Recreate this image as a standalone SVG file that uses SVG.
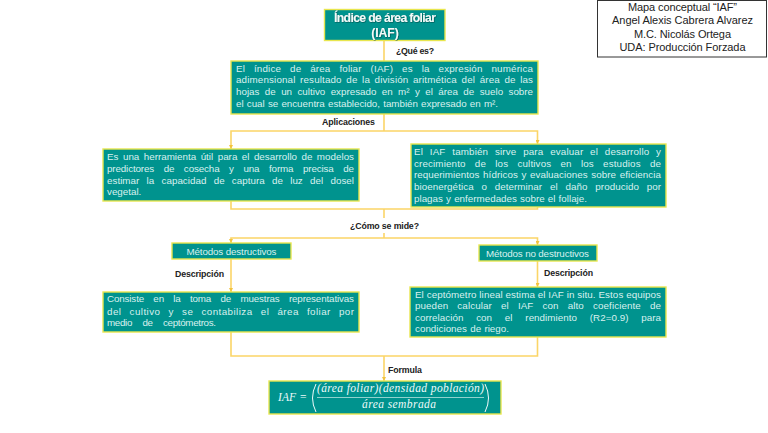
<svg xmlns="http://www.w3.org/2000/svg" width="768" height="433" viewBox="0 0 768 433">
<style>
text{font-family:"Liberation Sans",Arial,sans-serif}
.box{fill:#00938e;stroke:#e8e64e;stroke-width:1.4}
.b{font-size:9.800px;fill:#d9f1ee}
.c{font-size:9.800px;fill:#d9f1ee;text-anchor:middle}
.l{font-size:8.800px;font-weight:bold;fill:#222}
.t{font-size:12.200px;font-weight:bold;fill:#f2fbfa;text-anchor:middle;filter:url(#sh)}
.i{font-size:11px;fill:#222;text-anchor:middle}
.m{font-family:"Liberation Serif",serif;font-style:italic;font-size:11.500px;fill:#eefafa}
.line{fill:none;stroke:#fbd567;stroke-width:1.6}
.arr{fill:none;stroke:#fbd567;stroke-width:1.6;marker-end:url(#a)}
</style>
<defs>
<marker id="a" markerUnits="userSpaceOnUse" markerWidth="5" markerHeight="4" refX="4" refY="2" orient="auto"><path d="M0 0L4 2L0 4z" fill="#f3c33e"/></marker>
<filter id="sh" x="-5%" y="-20%" width="110%" height="140%"><feDropShadow dx="0.6" dy="0.6" stdDeviation="0.4" flood-color="#003d3a" flood-opacity="0.8"/></filter>
</defs>
<rect width="768" height="433" fill="#fff"/>
<g id="connectors">
<path class="line" d="M384 41V61"/>
<path class="line" d="M384 114V131"/>
<path class="arr" d="M384 131H231V149"/>
<path class="arr" d="M384 131H537.500V144"/>
<path class="line" d="M231 201V209H537.500V207"/>
<path class="line" d="M384 209V218"/>
<path class="line" d="M384 233V238"/>
<path class="arr" d="M384 238H231V243"/>
<path class="arr" d="M384 238H537.500V245"/>
<path class="arr" d="M231 259V292"/>
<path class="arr" d="M537.500 261V287"/>
<path class="line" d="M231 332V356H537.500V337"/>
<path class="arr" d="M384 356V381"/>
</g>
<g id="node-title">
<rect class="box" x="324.500" y="9.500" width="120.500" height="31"/>
<text class="t" x="385" y="22" textLength="102">Índice de área foliar</text>
<text class="t" x="385" y="36.500">(IAF)</text>
</g>
<g id="label-que-es"><text class="l" x="396" y="54" textLength="38">¿Qué es?</text></g>
<g id="node-definicion">
<rect class="box" x="231" y="61" width="307" height="53"/>
<text class="b" x="236" y="71.500" textLength="297" style="word-spacing:6px">El índice de área foliar (IAF) es la expresión numérica</text>
<text class="b" x="236" y="83" textLength="297" style="word-spacing:1.700px">adimensional resultado de la división aritmética del área de las</text>
<text class="b" x="236" y="95" textLength="297" style="word-spacing:2.700px">hojas de un cultivo expresado en m² y el área de suelo sobre</text>
<text class="b" x="236" y="107" textLength="262" style="word-spacing:0.500px">el cual se encuentra establecido, también expresado en m².</text>
</g>
<g id="label-aplicaciones"><text class="l" x="322" y="125" textLength="53">Aplicaciones</text></g>
<g id="node-aplicacion-1">
<rect class="box" x="103" y="149" width="256" height="52"/>
<text class="b" x="107" y="160" textLength="247" style="word-spacing:1.700px">Es una herramienta útil para el desarrollo de modelos</text>
<text class="b" x="107" y="172" textLength="247" style="word-spacing:7px">predictores de cosecha y una forma precisa de</text>
<text class="b" x="107" y="183.500" textLength="247" style="word-spacing:4.500px">estimar la capacidad de captura de luz del dosel</text>
<text class="b" x="107" y="195">vegetal.</text>
</g>
<g id="node-aplicacion-2">
<rect class="box" x="411" y="144" width="255" height="63"/>
<text class="b" x="414" y="155" textLength="247" style="word-spacing:3.900px">El IAF también sirve para evaluar el desarrollo y</text>
<text class="b" x="414" y="166.700" textLength="247" style="word-spacing:6.400px">crecimiento de los cultivos en los estudios de</text>
<text class="b" x="414" y="178" textLength="247" style="word-spacing:0.800px">requerimientos hídricos y evaluaciones sobre eficiencia</text>
<text class="b" x="414" y="190" textLength="247" style="word-spacing:5px">bioenergética o determinar el daño producido por</text>
<text class="b" x="414" y="201.500" textLength="173" style="word-spacing:0.400px">plagas y enfermedades sobre el follaje.</text>
</g>
<g id="label-como"><text class="l" x="350" y="229" textLength="69">¿Cómo se mide?</text></g>
<g id="node-destructivos">
<rect class="box" x="172" y="243" width="119" height="16"/>
<text class="c" x="231.500" y="254.500" textLength="90">Métodos destructivos</text>
</g>
<g id="node-no-destructivos">
<rect class="box" x="479" y="245" width="118" height="16"/>
<text class="c" x="537.500" y="256.500" textLength="103">Métodos no destructivos</text>
</g>
<g id="label-descripcion-1"><text class="l" x="175" y="277" textLength="49">Descripción</text></g>
<g id="label-descripcion-2"><text class="l" x="544" y="275.700" textLength="49">Descripción</text></g>
<g id="node-destructivos-desc">
<rect class="box" x="103" y="292" width="256" height="40"/>
<text class="b" x="107" y="302" textLength="247" style="word-spacing:6.700px">Consiste en la toma de muestras representativas</text>
<text class="b" x="107" y="314.500" textLength="247" style="word-spacing:5px">del cultivo y se contabiliza el área foliar por</text>
<text class="b" x="107" y="326" textLength="109" style="word-spacing:8px">medio de ceptómetros.</text>
</g>
<g id="node-no-destructivos-desc">
<rect class="box" x="410" y="287" width="256" height="50"/>
<text class="b" x="415" y="297.700" textLength="246">El ceptómetro lineal estima el IAF in situ. Estos equipos</text>
<text class="b" x="415" y="309" textLength="246" style="word-spacing:6.300px">pueden calcular el IAF con alto coeficiente de</text>
<text class="b" x="415" y="320.500" textLength="246" style="word-spacing:10px">correlación con el rendimiento (R2=0.9) para</text>
<text class="b" x="415" y="331.700" textLength="94" style="word-spacing:0.500px">condiciones de riego.</text>
</g>
<g id="label-formula"><text class="l" x="388" y="373" textLength="34">Formula</text></g>
<g id="node-formula">
<rect class="box" x="269" y="381" width="232" height="33"/>
<text class="m" x="278" y="401" textLength="29">IAF =</text>
<path d="M316 384Q309 398 316 412M485 384Q492 398 485 412" fill="none" stroke="#eefafa" stroke-width="1"/>
<text class="m" x="317" y="392" textLength="167">(área foliar)(densidad población)</text>
<path d="M317 397.500H484" stroke="#cfeeea" stroke-width="0.700"/>
<text class="m" x="362" y="408" textLength="74">área sembrada</text>
</g>
<g id="node-info">
<rect x="597.500" y="0.500" width="169" height="56.500" fill="#fff" stroke="#333" stroke-width="1"/>
<text class="i" x="682.500" y="10.500" textLength="109">Mapa conceptual “IAF”</text>
<text class="i" x="682.500" y="24" textLength="141">Angel Alexis Cabrera Alvarez</text>
<text class="i" x="682.500" y="38" textLength="97">M.C. Nicolás Ortega</text>
<text class="i" x="682.500" y="51" textLength="126">UDA: Producción Forzada</text>
</g>
</svg>
